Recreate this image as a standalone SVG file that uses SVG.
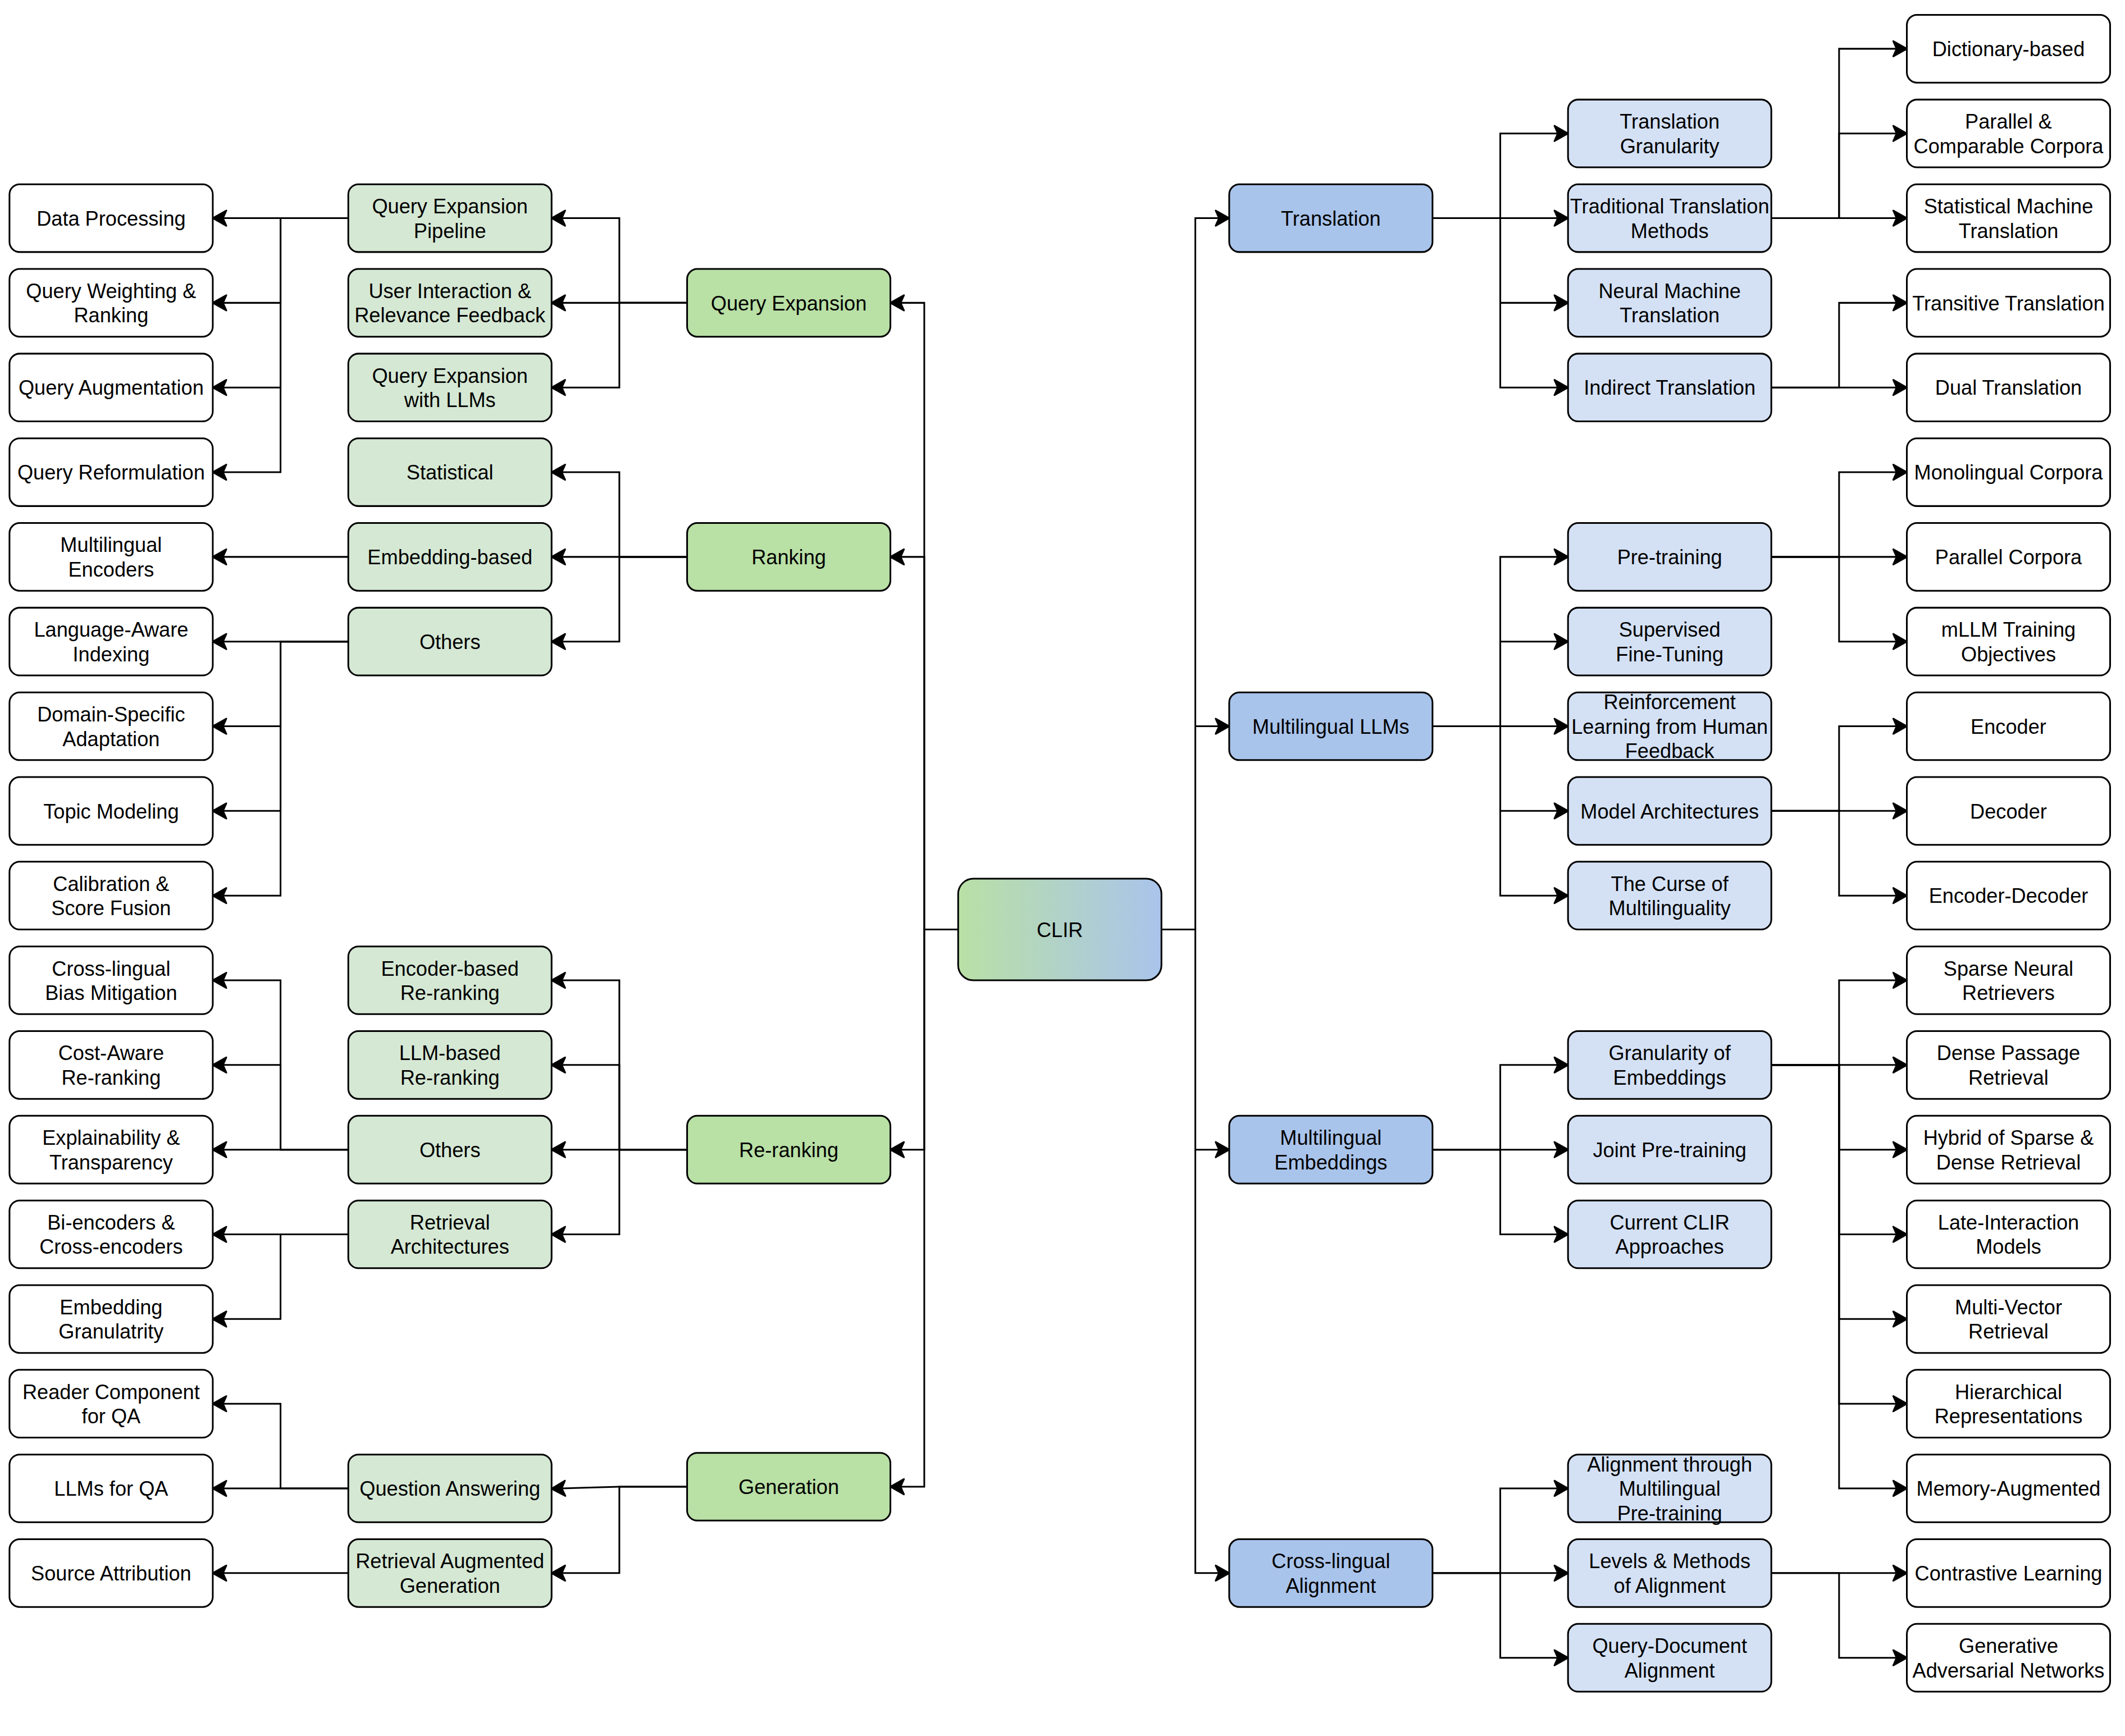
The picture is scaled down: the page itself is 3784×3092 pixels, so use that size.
<svg xmlns="http://www.w3.org/2000/svg" width="3784" height="3092" viewBox="0 0 3784 3092">
<defs>
<linearGradient id="clirGrad" x1="0" y1="0" x2="1" y2="0">
<stop offset="0" stop-color="#B9E0A5"/>
<stop offset="1" stop-color="#A9C4EB"/>
</linearGradient>
<marker id="arr" viewBox="-10 -6 12 12" refX="-6" refY="0" markerWidth="12" markerHeight="12" markerUnits="userSpaceOnUse" orient="auto">
<path d="M0,0 L-8,-4.5 L-6,0 L-8,4.5 Z" fill="#000" stroke="#000" stroke-width="1" stroke-linejoin="round"/>
</marker>
</defs>
<style>
.n rect{stroke:#000;stroke-width:1}
.leaf rect{fill:#FFFFFF}
.g1 rect{fill:#B9E0A5}
.g2 rect{fill:#D5E8D4}
.b1 rect{fill:#A9C4EB}
.b2 rect{fill:#D4E1F5}
.root rect{fill:url(#clirGrad)}
text{font-family:"Liberation Sans",Arial,Helvetica,sans-serif;font-size:12px;text-anchor:middle;fill:#000}
#connectors path{fill:none;stroke:#000;stroke-width:1;marker-end:url(#arr)}
</style>
<rect x="0" y="0" width="3784" height="3092" fill="#FFFFFF"/>
<g transform="scale(3.01663) translate(5.6 8.8)">
<g id="connectors">
<path d="M560,540H540V170H526"/>
<path d="M560,540H540V320H526"/>
<path d="M560,540H540V670H526"/>
<path d="M560,540H540V869H526"/>
<path d="M400,170H360V120H326"/>
<path d="M400,170H326"/>
<path d="M400,170H360V220H326"/>
<path d="M400,320H360V270H326"/>
<path d="M400,320H326"/>
<path d="M400,320H360V370H326"/>
<path d="M400,670H360V570H326"/>
<path d="M400,670H360V620H326"/>
<path d="M400,670H326"/>
<path d="M400,670H360V720H326"/>
<path d="M400,869H360L326,870"/>
<path d="M400,869H360V920H326"/>
<path d="M200,120H126"/>
<path d="M200,120H160V170H126"/>
<path d="M200,120H160V220H126"/>
<path d="M200,120H160V270H126"/>
<path d="M200,320H126"/>
<path d="M200,370H126"/>
<path d="M200,370H160V420H126"/>
<path d="M200,370H160V470H126"/>
<path d="M200,370H160V520H126"/>
<path d="M200,670H160V570H126"/>
<path d="M200,670H160V620H126"/>
<path d="M200,670H126"/>
<path d="M200,720H126"/>
<path d="M200,720H160V770H126"/>
<path d="M200,870H160V820H126"/>
<path d="M200,870H126"/>
<path d="M200,920H126"/>
<path d="M680,540H700V120H714"/>
<path d="M680,540H700V420H714"/>
<path d="M680,540H700V670H714"/>
<path d="M680,540H700V920H714"/>
<path d="M840,120H880V70H914"/>
<path d="M840,120H914"/>
<path d="M840,120H880V170H914"/>
<path d="M840,120H880V220H914"/>
<path d="M840,420H880V320H914"/>
<path d="M840,420H880V370H914"/>
<path d="M840,420H914"/>
<path d="M840,420H880V470H914"/>
<path d="M840,420H880V520H914"/>
<path d="M840,670H880V620H914"/>
<path d="M840,670H914"/>
<path d="M840,670H880V720H914"/>
<path d="M840,920H880V870H914"/>
<path d="M840,920H914"/>
<path d="M840,920H880V970H914"/>
<path d="M1040,120H1080V20H1114"/>
<path d="M1040,120H1080V70H1114"/>
<path d="M1040,120H1114"/>
<path d="M1040,220H1080V170H1114"/>
<path d="M1040,220H1114"/>
<path d="M1040,320H1080V270H1114"/>
<path d="M1040,320H1114"/>
<path d="M1040,320H1080V370H1114"/>
<path d="M1040,470H1080V420H1114"/>
<path d="M1040,470H1114"/>
<path d="M1040,470H1080V520H1114"/>
<path d="M1040,620H1080V570H1114"/>
<path d="M1040,620H1114"/>
<path d="M1040,620H1080V670H1114"/>
<path d="M1040,620H1080V720H1114"/>
<path d="M1040,620H1080V770H1114"/>
<path d="M1040,620H1080V820H1114"/>
<path d="M1040,620H1080V870H1114"/>
<path d="M1040,920H1114"/>
<path d="M1040,920H1080V970H1114"/>
</g>

<g id="clir" class="n root"><rect x="560" y="510" width="120" height="60" rx="9"/><text x="620" y="544.4">CLIR</text></g>

<g id="query-expansion" class="n g1"><rect x="400" y="150" width="120" height="40" rx="6"/><text x="460" y="174.4">Query Expansion</text></g>
<g id="ranking" class="n g1"><rect x="400" y="300" width="120" height="40" rx="6"/><text x="460" y="324.4">Ranking</text></g>
<g id="re-ranking" class="n g1"><rect x="400" y="650" width="120" height="40" rx="6"/><text x="460" y="674.4">Re-ranking</text></g>
<g id="generation" class="n g1"><rect x="400" y="849" width="120" height="40" rx="6"/><text x="460" y="873.4">Generation</text></g>

<g id="qe-pipeline" class="n g2"><rect x="200" y="100" width="120" height="40" rx="6"/><text x="260"><tspan x="260" y="117.2">Query Expansion</tspan><tspan x="260" y="131.6">Pipeline</tspan></text></g>
<g id="user-interaction" class="n g2"><rect x="200" y="150" width="120" height="40" rx="6"/><text x="260"><tspan x="260" y="167.2">User Interaction &amp;</tspan><tspan x="260" y="181.6">Relevance Feedback</tspan></text></g>
<g id="qe-llms" class="n g2"><rect x="200" y="200" width="120" height="40" rx="6"/><text x="260"><tspan x="260" y="217.2">Query Expansion</tspan><tspan x="260" y="231.6">with LLMs</tspan></text></g>
<g id="statistical" class="n g2"><rect x="200" y="250" width="120" height="40" rx="6"/><text x="260" y="274.4">Statistical</text></g>
<g id="embedding-based" class="n g2"><rect x="200" y="300" width="120" height="40" rx="6"/><text x="260" y="324.4">Embedding-based</text></g>
<g id="ranking-others" class="n g2"><rect x="200" y="350" width="120" height="40" rx="6"/><text x="260" y="374.4">Others</text></g>
<g id="encoder-reranking" class="n g2"><rect x="200" y="550" width="120" height="40" rx="6"/><text x="260"><tspan x="260" y="567.2">Encoder-based</tspan><tspan x="260" y="581.6">Re-ranking</tspan></text></g>
<g id="llm-reranking" class="n g2"><rect x="200" y="600" width="120" height="40" rx="6"/><text x="260"><tspan x="260" y="617.2">LLM-based</tspan><tspan x="260" y="631.6">Re-ranking</tspan></text></g>
<g id="reranking-others" class="n g2"><rect x="200" y="650" width="120" height="40" rx="6"/><text x="260" y="674.4">Others</text></g>
<g id="retrieval-arch" class="n g2"><rect x="200" y="700" width="120" height="40" rx="6"/><text x="260"><tspan x="260" y="717.2">Retrieval</tspan><tspan x="260" y="731.6">Architectures</tspan></text></g>
<g id="question-answering" class="n g2"><rect x="200" y="850" width="120" height="40" rx="6"/><text x="260" y="874.4">Question Answering</text></g>
<g id="rag" class="n g2"><rect x="200" y="900" width="120" height="40" rx="6"/><text x="260"><tspan x="260" y="917.2">Retrieval Augmented</tspan><tspan x="260" y="931.6">Generation</tspan></text></g>

<g id="data-processing" class="n leaf"><rect x="0" y="100" width="120" height="40" rx="6"/><text x="60" y="124.4">Data Processing</text></g>
<g id="query-weighting" class="n leaf"><rect x="0" y="150" width="120" height="40" rx="6"/><text x="60"><tspan x="60" y="167.2">Query Weighting &amp;</tspan><tspan x="60" y="181.6">Ranking</tspan></text></g>
<g id="query-augmentation" class="n leaf"><rect x="0" y="200" width="120" height="40" rx="6"/><text x="60" y="224.4">Query Augmentation</text></g>
<g id="query-reformulation" class="n leaf"><rect x="0" y="250" width="120" height="40" rx="6"/><text x="60" y="274.4">Query Reformulation</text></g>
<g id="multilingual-encoders" class="n leaf"><rect x="0" y="300" width="120" height="40" rx="6"/><text x="60"><tspan x="60" y="317.2">Multilingual</tspan><tspan x="60" y="331.6">Encoders</tspan></text></g>
<g id="language-aware" class="n leaf"><rect x="0" y="350" width="120" height="40" rx="6"/><text x="60"><tspan x="60" y="367.2">Language-Aware</tspan><tspan x="60" y="381.6">Indexing</tspan></text></g>
<g id="domain-specific" class="n leaf"><rect x="0" y="400" width="120" height="40" rx="6"/><text x="60"><tspan x="60" y="417.2">Domain-Specific</tspan><tspan x="60" y="431.6">Adaptation</tspan></text></g>
<g id="topic-modeling" class="n leaf"><rect x="0" y="450" width="120" height="40" rx="6"/><text x="60" y="474.4">Topic Modeling</text></g>
<g id="calibration" class="n leaf"><rect x="0" y="500" width="120" height="40" rx="6"/><text x="60"><tspan x="60" y="517.2">Calibration &amp;</tspan><tspan x="60" y="531.6">Score Fusion</tspan></text></g>
<g id="bias-mitigation" class="n leaf"><rect x="0" y="550" width="120" height="40" rx="6"/><text x="60"><tspan x="60" y="567.2">Cross-lingual</tspan><tspan x="60" y="581.6">Bias Mitigation</tspan></text></g>
<g id="cost-aware" class="n leaf"><rect x="0" y="600" width="120" height="40" rx="6"/><text x="60"><tspan x="60" y="617.2">Cost-Aware</tspan><tspan x="60" y="631.6">Re-ranking</tspan></text></g>
<g id="explainability" class="n leaf"><rect x="0" y="650" width="120" height="40" rx="6"/><text x="60"><tspan x="60" y="667.2">Explainability &amp;</tspan><tspan x="60" y="681.6">Transparency</tspan></text></g>
<g id="bi-encoders" class="n leaf"><rect x="0" y="700" width="120" height="40" rx="6"/><text x="60"><tspan x="60" y="717.2">Bi-encoders &amp;</tspan><tspan x="60" y="731.6">Cross-encoders</tspan></text></g>
<g id="embedding-granularity" class="n leaf"><rect x="0" y="750" width="120" height="40" rx="6"/><text x="60"><tspan x="60" y="767.2">Embedding</tspan><tspan x="60" y="781.6">Granulatrity</tspan></text></g>
<g id="reader-component" class="n leaf"><rect x="0" y="800" width="120" height="40" rx="6"/><text x="60"><tspan x="60" y="817.2">Reader Component</tspan><tspan x="60" y="831.6">for QA</tspan></text></g>
<g id="llms-for-qa" class="n leaf"><rect x="0" y="850" width="120" height="40" rx="6"/><text x="60" y="874.4">LLMs for QA</text></g>
<g id="source-attribution" class="n leaf"><rect x="0" y="900" width="120" height="40" rx="6"/><text x="60" y="924.4">Source Attribution</text></g>

<g id="translation" class="n b1"><rect x="720" y="100" width="120" height="40" rx="6"/><text x="780" y="124.4">Translation</text></g>
<g id="multilingual-llms" class="n b1"><rect x="720" y="400" width="120" height="40" rx="6"/><text x="780" y="424.4">Multilingual LLMs</text></g>
<g id="multilingual-embeddings" class="n b1"><rect x="720" y="650" width="120" height="40" rx="6"/><text x="780"><tspan x="780" y="667.2">Multilingual</tspan><tspan x="780" y="681.6">Embeddings</tspan></text></g>
<g id="cross-lingual-alignment" class="n b1"><rect x="720" y="900" width="120" height="40" rx="6"/><text x="780"><tspan x="780" y="917.2">Cross-lingual</tspan><tspan x="780" y="931.6">Alignment</tspan></text></g>

<g id="translation-granularity" class="n b2"><rect x="920" y="50" width="120" height="40" rx="6"/><text x="980"><tspan x="980" y="67.2">Translation</tspan><tspan x="980" y="81.6">Granularity</tspan></text></g>
<g id="traditional-translation" class="n b2"><rect x="920" y="100" width="120" height="40" rx="6"/><text x="980"><tspan x="980" y="117.2">Traditional Translation</tspan><tspan x="980" y="131.6">Methods</tspan></text></g>
<g id="nmt" class="n b2"><rect x="920" y="150" width="120" height="40" rx="6"/><text x="980"><tspan x="980" y="167.2">Neural Machine</tspan><tspan x="980" y="181.6">Translation</tspan></text></g>
<g id="indirect-translation" class="n b2"><rect x="920" y="200" width="120" height="40" rx="6"/><text x="980" y="224.4">Indirect Translation</text></g>
<g id="pre-training" class="n b2"><rect x="920" y="300" width="120" height="40" rx="6"/><text x="980" y="324.4">Pre-training</text></g>
<g id="supervised-ft" class="n b2"><rect x="920" y="350" width="120" height="40" rx="6"/><text x="980"><tspan x="980" y="367.2">Supervised</tspan><tspan x="980" y="381.6">Fine-Tuning</tspan></text></g>
<g id="rlhf" class="n b2"><rect x="920" y="400" width="120" height="40" rx="6"/><text x="980"><tspan x="980" y="410">Reinforcement</tspan><tspan x="980" y="424.4">Learning from Human</tspan><tspan x="980" y="438.8">Feedback</tspan></text></g>
<g id="model-architectures" class="n b2"><rect x="920" y="450" width="120" height="40" rx="6"/><text x="980" y="474.4">Model Architectures</text></g>
<g id="curse-multilinguality" class="n b2"><rect x="920" y="500" width="120" height="40" rx="6"/><text x="980"><tspan x="980" y="517.2">The Curse of</tspan><tspan x="980" y="531.6">Multilinguality</tspan></text></g>
<g id="granularity-embeddings" class="n b2"><rect x="920" y="600" width="120" height="40" rx="6"/><text x="980"><tspan x="980" y="617.2">Granularity of</tspan><tspan x="980" y="631.6">Embeddings</tspan></text></g>
<g id="joint-pretraining" class="n b2"><rect x="920" y="650" width="120" height="40" rx="6"/><text x="980" y="674.4">Joint Pre-training</text></g>
<g id="current-clir" class="n b2"><rect x="920" y="700" width="120" height="40" rx="6"/><text x="980"><tspan x="980" y="717.2">Current CLIR</tspan><tspan x="980" y="731.6">Approaches</tspan></text></g>
<g id="alignment-pretraining" class="n b2"><rect x="920" y="850" width="120" height="40" rx="6"/><text x="980"><tspan x="980" y="860">Alignment through</tspan><tspan x="980" y="874.4">Multilingual</tspan><tspan x="980" y="888.8">Pre-training</tspan></text></g>
<g id="levels-methods" class="n b2"><rect x="920" y="900" width="120" height="40" rx="6"/><text x="980"><tspan x="980" y="917.2">Levels &amp; Methods</tspan><tspan x="980" y="931.6">of Alignment</tspan></text></g>
<g id="query-document" class="n b2"><rect x="920" y="950" width="120" height="40" rx="6"/><text x="980"><tspan x="980" y="967.2">Query-Document</tspan><tspan x="980" y="981.6">Alignment</tspan></text></g>

<g id="dictionary-based" class="n leaf"><rect x="1120" y="0" width="120" height="40" rx="6"/><text x="1180" y="24.4">Dictionary-based</text></g>
<g id="parallel-comparable" class="n leaf"><rect x="1120" y="50" width="120" height="40" rx="6"/><text x="1180"><tspan x="1180" y="67.2">Parallel &amp;</tspan><tspan x="1180" y="81.6">Comparable Corpora</tspan></text></g>
<g id="smt" class="n leaf"><rect x="1120" y="100" width="120" height="40" rx="6"/><text x="1180"><tspan x="1180" y="117.2">Statistical Machine</tspan><tspan x="1180" y="131.6">Translation</tspan></text></g>
<g id="transitive-translation" class="n leaf"><rect x="1120" y="150" width="120" height="40" rx="6"/><text x="1180" y="174.4">Transitive Translation</text></g>
<g id="dual-translation" class="n leaf"><rect x="1120" y="200" width="120" height="40" rx="6"/><text x="1180" y="224.4">Dual Translation</text></g>
<g id="monolingual-corpora" class="n leaf"><rect x="1120" y="250" width="120" height="40" rx="6"/><text x="1180" y="274.4">Monolingual Corpora</text></g>
<g id="parallel-corpora" class="n leaf"><rect x="1120" y="300" width="120" height="40" rx="6"/><text x="1180" y="324.4">Parallel Corpora</text></g>
<g id="mllm-objectives" class="n leaf"><rect x="1120" y="350" width="120" height="40" rx="6"/><text x="1180"><tspan x="1180" y="367.2">mLLM Training</tspan><tspan x="1180" y="381.6">Objectives</tspan></text></g>
<g id="encoder" class="n leaf"><rect x="1120" y="400" width="120" height="40" rx="6"/><text x="1180" y="424.4">Encoder</text></g>
<g id="decoder" class="n leaf"><rect x="1120" y="450" width="120" height="40" rx="6"/><text x="1180" y="474.4">Decoder</text></g>
<g id="encoder-decoder" class="n leaf"><rect x="1120" y="500" width="120" height="40" rx="6"/><text x="1180" y="524.4">Encoder-Decoder</text></g>
<g id="sparse-neural" class="n leaf"><rect x="1120" y="550" width="120" height="40" rx="6"/><text x="1180"><tspan x="1180" y="567.2">Sparse Neural</tspan><tspan x="1180" y="581.6">Retrievers</tspan></text></g>
<g id="dense-passage" class="n leaf"><rect x="1120" y="600" width="120" height="40" rx="6"/><text x="1180"><tspan x="1180" y="617.2">Dense Passage</tspan><tspan x="1180" y="631.6">Retrieval</tspan></text></g>
<g id="hybrid" class="n leaf"><rect x="1120" y="650" width="120" height="40" rx="6"/><text x="1180"><tspan x="1180" y="667.2">Hybrid of Sparse &amp;</tspan><tspan x="1180" y="681.6">Dense Retrieval</tspan></text></g>
<g id="late-interaction" class="n leaf"><rect x="1120" y="700" width="120" height="40" rx="6"/><text x="1180"><tspan x="1180" y="717.2">Late-Interaction</tspan><tspan x="1180" y="731.6">Models</tspan></text></g>
<g id="multi-vector" class="n leaf"><rect x="1120" y="750" width="120" height="40" rx="6"/><text x="1180"><tspan x="1180" y="767.2">Multi-Vector</tspan><tspan x="1180" y="781.6">Retrieval</tspan></text></g>
<g id="hierarchical" class="n leaf"><rect x="1120" y="800" width="120" height="40" rx="6"/><text x="1180"><tspan x="1180" y="817.2">Hierarchical</tspan><tspan x="1180" y="831.6">Representations</tspan></text></g>
<g id="memory-augmented" class="n leaf"><rect x="1120" y="850" width="120" height="40" rx="6"/><text x="1180" y="874.4">Memory-Augmented</text></g>
<g id="contrastive-learning" class="n leaf"><rect x="1120" y="900" width="120" height="40" rx="6"/><text x="1180" y="924.4">Contrastive Learning</text></g>
<g id="gan" class="n leaf"><rect x="1120" y="950" width="120" height="40" rx="6"/><text x="1180"><tspan x="1180" y="967.2">Generative</tspan><tspan x="1180" y="981.6">Adversarial Networks</tspan></text></g>
</g>
</svg>
